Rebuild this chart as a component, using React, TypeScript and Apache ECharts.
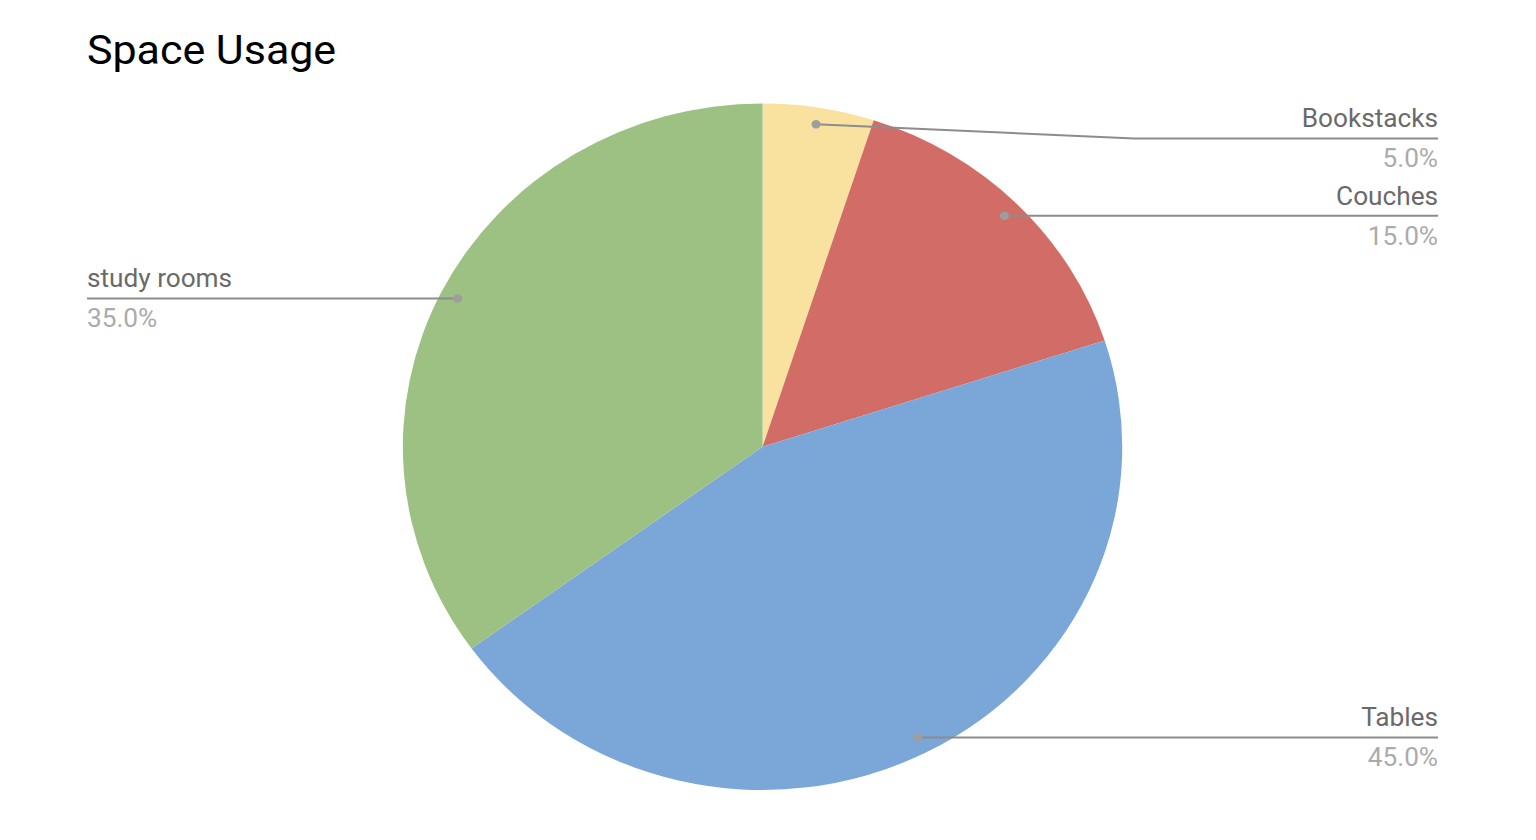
import React, { useEffect, useRef } from "react";
import * as echarts from "echarts";

const TITLE = "Space Usage";
const categories = ["Bookstacks", "Couches", "Tables", "study rooms"];
const values = [5, 15, 45, 35];
const colors = ["#F9E2A0", "#D26C67", "#7BA7D8", "#9DC183"];

// The reference is a horizontally stretched render; draw at a narrower width and stretch.
const W = 1466;
const H = 840;
const STRETCH = 1536 / W;
const CX = 727.8;
const CY = 446.7;
const R = 343.3;
const DOT_FRAC = 0.951;
const LEFT_EDGE = 83;
const RIGHT_EDGE = 1372.5;
const MIN_LINE_Y = 138.5;
const ELBOW = 290;

function dotPos(i: number): [number, number] {
  const total = values.reduce((a, b) => a + b, 0);
  let cum = 0;
  for (let k = 0; k < i; k++) cum += values[k];
  const theta = ((cum + values[i] / 2) / total) * 2 * Math.PI;
  return [CX + Math.sin(theta) * R * DOT_FRAC, CY - Math.cos(theta) * R * DOT_FRAC];
}

export default function App() {
  const ref = useRef<HTMLDivElement>(null);
  useEffect(() => {
    if (!ref.current) return;
    const chart = echarts.init(ref.current, undefined, { renderer: "svg" });
    const data = categories.map((name, i) => ({
      name,
      value: values[i],
      itemStyle: { color: colors[i] },
    }));
    const labelData = categories.map((name, i) => ({
      name,
      value: values[i],
      itemStyle: { color: "rgba(0,0,0,0)" },
    }));
    const dots = categories.map((_, i) => {
      const [x, y] = dotPos(i);
      return {
        type: "circle",
        z: 100,
        shape: { cx: x, cy: y, r: 4.3 },
        style: { fill: "#9e9e9e" },
        silent: true,
      };
    });
    chart.setOption({
      animation: false,
      backgroundColor: "#ffffff",
      title: {
        text: TITLE,
        left: LEFT_EDGE,
        top: 29,
        padding: 0,
        textStyle: {
          fontFamily: "Roboto",
          fontSize: 41,
          fontWeight: "normal",
          color: "#000000",
        },
      },
      graphic: dots,
      series: [
        {
          type: "pie",
          z: 2,
          center: [CX, CY],
          radius: R,
          startAngle: 90,
          clockwise: true,
          silent: true,
          emphasis: { disabled: true },
          itemStyle: { borderWidth: 0 },
          label: { show: false },
          labelLine: { show: false },
          data,
        },
        {
          type: "pie",
          z: 10,
          center: [CX, CY],
          radius: R,
          startAngle: 90,
          clockwise: true,
          avoidLabelOverlap: false,
          silent: true,
          emphasis: { disabled: true },
          itemStyle: { borderWidth: 0 },
          label: {
            show: true,
            position: "outside",
            fontFamily: "Roboto",
            formatter: (p: any) => `{n|${p.name}}\n{v|${p.percent.toFixed(1)}%}`,
            rich: {
              n: { fontFamily: "Roboto", fontSize: 25, color: "#6a6a6a", lineHeight: 40 },
              v: { fontFamily: "Roboto", fontSize: 25, color: "#ababab", lineHeight: 40 },
            },
          },
          labelLine: {
            show: true,
            length: 20,
            length2: 20,
            smooth: false,
            lineStyle: { color: "#8c8c8c", width: 2 },
          },
          labelLayout: (p: any) => {
            const [dx, dy] = dotPos(p.dataIndex);
            const right = dx > CX;
            const ly = Math.max(dy, MIN_LINE_Y);
            const ex = right ? RIGHT_EDGE : LEFT_EDGE;
            const mid = ly !== dy ? [ex + (right ? -ELBOW : ELBOW), ly] : [dx, dy];
            return {
              x: ex,
              y: ly,
              align: right ? "right" : "left",
              verticalAlign: "middle",
              hideOverlap: false,
              labelLinePoints: [[dx, dy], mid, [ex, ly]],
            };
          },
          data: labelData,
        },
      ],
    });
    return () => chart.dispose();
  }, []);
  return (
    <div
      ref={ref}
      style={{
        position: "fixed",
        left: 0,
        top: 0,
        width: W,
        height: H,
        background: "#ffffff",
        transform: `scaleX(${STRETCH})`,
        transformOrigin: "0 0",
      }}
    />
  );
}
